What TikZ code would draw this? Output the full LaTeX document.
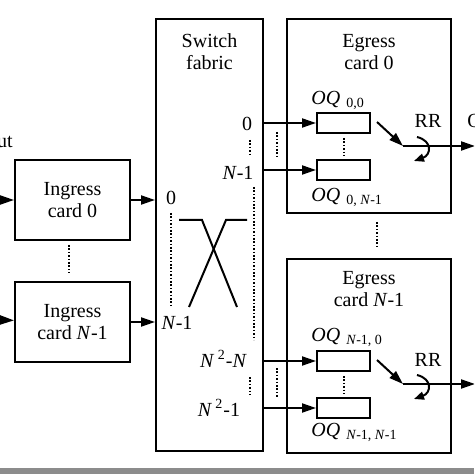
\documentclass[tikz,border=0pt]{standalone}
\usepackage{fontspec}
\setmainfont{Liberation Serif}
\usetikzlibrary{arrows.meta, positioning}

\newcommand{\Nv}{\textit{N}}
\newcommand{\oq}[1]{\textit{OQ}\hspace{3pt}\raisebox{-1.5pt}{\fontsize{7}{8}\selectfont #1}}

\begin{document}
\begin{tikzpicture}[x=0.5pt, y=-0.5pt,
  every node/.style={font=\fontsize{10}{11}\selectfont, align=center, inner sep=0pt},
  card/.style={draw, line width=1pt, minimum width=57.5pt, minimum height=40pt},
  egress/.style={draw, line width=1pt, minimum width=82pt, minimum height=97pt},
  queue/.style={draw, line width=1pt, minimum width=26.5pt, minimum height=10pt},
  conn/.style={line width=1pt, -{Triangle[length=7pt, width=4.5pt]}},
  rrarrow/.style={line width=1pt, -{Triangle[length=5pt, width=4pt]}},
  dots/.style={line width=1.3pt, dash pattern=on 0.8pt off 0.9pt}]

  \useasboundingbox (0,0) rectangle (474,474);
  \clip (0,0) rectangle (474,474);

  % Ingress cards
  \node (ingress0) [card] at (72.5,200) {Ingress\\card 0};
  \node (ingressN) [card, below=20pt of ingress0] {Ingress\\card \Nv-1};
  \draw[dots] (69,245) -- (69,273);

  % Inputs
  \coordinate (inA) at (0,200);
  \coordinate (inB) at (0,320);
  \node (inlbl) [anchor=base east] at (13,148) {Input};
  \draw[conn] (inA) -- (ingress0);
  \draw[conn] (inB) -- (ingressN);

  % Switch fabric
  \node (fabric) [draw, line width=1pt, minimum width=53.5pt, minimum height=216pt] at (209.5,235) {};
  \node (fabtitle) at (209.5,51.5) {Switch\\fabric};
  \draw[conn] (ingress0) -- (ingress0 -| fabric.west);
  \draw[conn] (ingressN) -- (ingressN -| fabric.west);

  % Fabric ports
  \node (pin0) [anchor=base] at (171,205) {0};
  \node (pinN) [anchor=base] at (177,329) {\Nv-1};
  \node (pout0) [anchor=base] at (247,131) {0};
  \node (poutN) [anchor=base] at (238,180) {\Nv-1};
  \node (poutA) [anchor=base] at (223.5,367) {\Nv\,\textsuperscript{2}-\Nv};
  \node (poutB) [anchor=base] at (219,416) {\Nv\,\textsuperscript{2}-1};
  \draw[dots] (171,213) -- (171,305);
  \draw[dots] (250,140) -- (250,156);
  \draw[dots] (254,187) -- (254,340);
  \draw[dots] (250,377) -- (250,395);

  % Crossing inside the fabric
  \draw[line width=1pt] (179,220) -- (202,220) -- (237,307);
  \draw[line width=1pt] (247,220) -- (226,220) -- (189,307);

  % Egress cards
  \node (egress0) [egress] at (369,116) {};
  \node (egressN) [egress, below=22pt of egress0] {};
  \node (egtitle0) at (369,52) {Egress\\card 0};
  \node (egtitleN) at (369,289) {Egress\\card \Nv-1};
  \draw[dots] (377,222) -- (377,247);

  % Output queues
  \node (q00) [queue] at (343.5,123) {};
  \node (q0N) [queue] at (343.5,170) {};
  \node (qN0) [queue] at (343.5,361) {};
  \node (qNN) [queue] at (343.5,408) {};
  \node (oq00) [anchor=base west] at (311,104.5) {\oq{0,0}};
  \node (oq0N) [anchor=base west] at (311,201.5) {\oq{0, \Nv-1}};
  \node (oqN0) [anchor=base west] at (311,341.5) {\oq{\Nv-1, 0}};
  \node (oqNN) [anchor=base west] at (311,436.5) {\oq{\Nv-1, \Nv-1}};
  \draw[dots] (344,138) -- (344,156);
  \draw[dots] (344,376) -- (344,394);

  % Fabric outputs to queues
  \draw[conn] (q00 -| fabric.east) -- (q00);
  \draw[conn] (q0N -| fabric.east) -- (q0N);
  \draw[conn] (qN0 -| fabric.east) -- (qN0);
  \draw[conn] (qNN -| fabric.east) -- (qNN);
  \draw[dots] (277,132) -- (277,159);
  \draw[dots] (277,368) -- (277,397);

  % Round robin and outputs
  \coordinate (tap0) at (377,122);
  \coordinate (tapN) at (377,360);
  \coordinate (rr0) at (403,146);
  \coordinate (rrN) at (403,384);
  \coordinate (out0) at (475,146);
  \coordinate (outN) at (475,384);
  \draw[conn] (tap0) -- (rr0);
  \draw[conn] (tapN) -- (rrN);
  \draw[conn] (rr0) -- (out0);
  \draw[conn] (rrN) -- (outN);
  \node (rrlbl0) [anchor=base] at (428,128) {RR};
  \node (rrlblN) [anchor=base] at (428,366) {RR};
  \draw[rrarrow] (417,137) .. controls (433,141) and (431,155) .. (414,161);
  \draw[rrarrow] (417,375) .. controls (433,379) and (431,393) .. (414,399);
  \node (outlbl) [anchor=base west] at (467,128) {Output};

  % Bottom bar
  \fill[black!45] (0,468) rectangle (474,474);

\end{tikzpicture}
\end{document}
